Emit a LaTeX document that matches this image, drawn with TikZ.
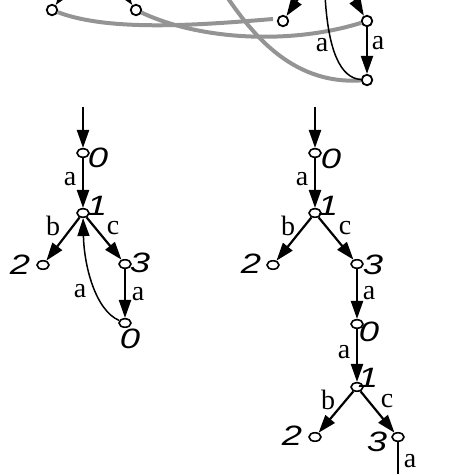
\documentclass[tikz,border=0pt]{standalone}
\usepackage{fontspec}
\setmainfont{Liberation Serif}
\newfontfamily\digfont{Liberation Sans}
\usetikzlibrary{arrows.meta,shapes.geometric,backgrounds}
\definecolor{graycol}{RGB}{148,148,148}
\newcommand{\dg}[1]{\scalebox{1.3}[1]{\digfont\itshape #1}}
\begin{document}
\begin{tikzpicture}[x=1pt,y=-1pt,
  st/.style={ellipse,draw,fill=white,line width=1.6pt,minimum width=12pt,minimum height=8.5pt,inner sep=0pt},
  tst/.style={circle,draw,fill=white,line width=1.8pt,minimum size=10.5pt,inner sep=0pt},
  num/.style={font=\fontsize{28}{28}\selectfont,inner sep=0pt,text height=20pt,text depth=0pt},
  lab/.style={font=\fontsize{28}{28}\selectfont,inner sep=0pt,text height=13pt,text depth=0pt},
  labb/.style={font=\fontsize{28}{28}\selectfont,inner sep=0pt,text height=19pt,text depth=0pt},
  tr/.style={line width=2.2pt,-{Triangle[length=18pt,width=12pt]}},
  tr2/.style={line width=1.5pt,-{Triangle[length=18pt,width=12pt]}},
  gr/.style={line width=4pt,draw=graycol}
]
\useasboundingbox (0,0) rectangle (474,474);

% ---------- top strip ----------
\node[tst] (A) at (52,10) {};
\node[tst] (B) at (136,10) {};
\node[tst] (C) at (283,21) {};
\node[tst] (D) at (367,21) {};
\node[tst] (E) at (367,80) {};
\coordinate (ain) at (68,-12);
\coordinate (bin) at (120,-12);
\coordinate (cin) at (304,-10);
\coordinate (din) at (350,-8);
\coordinate (tcin) at (325,-5);
\coordinate (g1e) at (273,19);
\coordinate (g3s) at (227,-3);

\begin{scope}[on background layer]
\draw[gr] (A) .. controls (110,32) and (200,25) .. (g1e);
\draw[gr] (B) .. controls (200,40) and (290,45) .. (D);
\draw[gr] (g3s) .. controls (250,30) and (290,85) .. (E);
\end{scope}

\draw[tr] (ain) -- (A);
\draw[tr] (bin) -- (B);
\draw[tr] (cin) -- (C);
\draw[tr] (din) -- (D);
\draw[tr] (D) -- (E);
\draw[line width=1.5pt] (tcin) .. controls (328,50) and (340,78) .. (E);
\node[lab] (ta1) at (322,45) {a};
\node[lab] (ta2) at (378,43) {a};

% ---------- lower left ----------
\node[st] (L0) at (83,153) {};
\node[st] (L1) at (83,213) {};
\node[st] (L2) at (43,265) {};
\node[st] (L3) at (125,264) {};
\node[st] (L4) at (125,323) {};
\coordinate (l0in) at (83,107);
\draw[tr] (l0in) -- (L0);
\draw[tr] (L0) -- (L1);
\draw[tr] (L1) -- (L2);
\draw[tr] (L1) -- (L3);
\draw[tr] (L3) -- (L4);
\draw[tr2] (L4) .. controls (95,310) and (84,265) .. (L1);
\node[num] (nl0) at (98,157) {\dg{0}};
\node[num] (nl1) at (97,205) {\dg{1}};
\node[num] (nl2) at (20,264) {\dg{2}};
\node[num] (nl3) at (140,262) {\dg{3}};
\node[num] (nl4) at (130,338) {\dg{0}};
\node[lab] (la1) at (70,179) {a};
\node[labb] (lb) at (53,226) {b};
\node[lab] (lc) at (113,228) {c};
\node[lab] (la2) at (138,294) {a};
\node[lab] (la3) at (80,291) {a};

% ---------- lower right ----------
\node[st] (R0) at (315,153) {};
\node[st] (R1) at (315,213) {};
\node[st] (R2) at (273,265) {};
\node[st] (R3) at (357,264) {};
\node[st] (R4) at (357,324) {};
\node[st] (R5) at (357,387) {};
\node[st] (R6) at (315,437) {};
\node[st] (R7) at (398,437) {};
\coordinate (r0in) at (315,107);
\coordinate (rend) at (398,480);
\draw[tr] (r0in) -- (R0);
\draw[tr] (R0) -- (R1);
\draw[tr] (R1) -- (R2);
\draw[tr] (R1) -- (R3);
\draw[tr] (R3) -- (R4);
\draw[tr] (R4) -- (R5);
\draw[tr] (R5) -- (R6);
\draw[tr] (R5) -- (R7);
\draw[line width=2.2pt] (R7) -- (rend);
\node[num] (nr0) at (331,158) {\dg{0}};
\node[num] (nr1) at (328,205) {\dg{1}};
\node[num] (nr2) at (251,263) {\dg{2}};
\node[num] (nr3) at (373,264) {\dg{3}};
\node[num] (nr4) at (369,331) {\dg{0}};
\node[num] (nr5) at (368,377) {\dg{1}};
\node[num] (nr6) at (292,435) {\dg{2}};
\node[num] (nr7) at (377,441) {\dg{3}};
\node[lab] (ra1) at (302,179) {a};
\node[labb] (rb) at (288,226) {b};
\node[lab] (rc) at (345,228) {c};
\node[lab] (ra2) at (369,293) {a};
\node[lab] (ra3) at (344,352) {a};
\node[labb] (rb2) at (328,400) {b};
\node[lab] (rc2) at (387,401) {c};
\node[lab] (ra4) at (410,461) {a};
\end{tikzpicture}
\end{document}
